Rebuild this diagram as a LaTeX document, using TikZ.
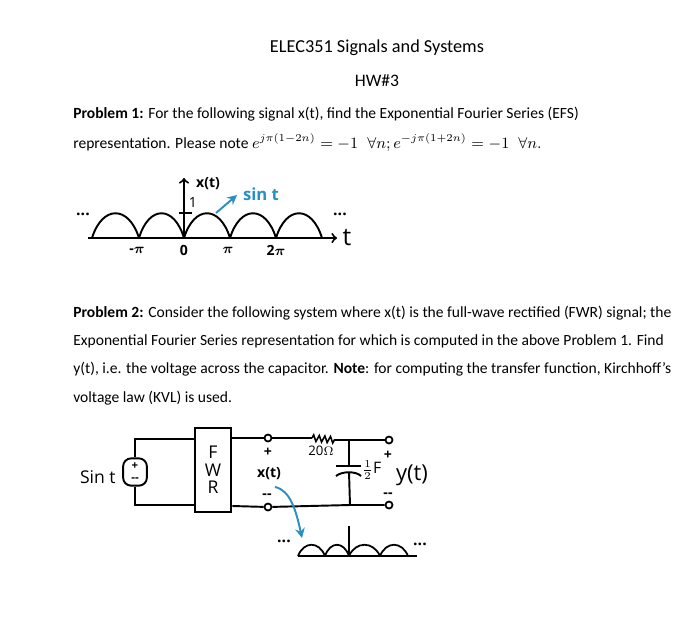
\documentclass[tikz,border=0pt]{standalone}
\usepackage{amsmath,amssymb}
\usepackage{fontspec}
\setmainfont{Carlito}
\newfontfamily\handfont{Open Sans}
\usetikzlibrary{arrows.meta,decorations.pathmorphing}
\definecolor{sketchblue}{HTML}{2A8FC4}
\tikzset{
  txt/.style={anchor=base west, inner sep=0pt, font=\fontsize{8.85}{10}\selectfont},
  head/.style={anchor=base, inner sep=0pt, font=\fontsize{10.4}{12}\selectfont},
  hand/.style={inner sep=0pt, font=\handfont\fontsize{8}{9}\selectfont},
  handb/.style={hand, font=\handfont\bfseries\fontsize{8}{8}\selectfont},
  dotted hand/.style={inner sep=0pt, font=\handfont\bfseries\fontsize{9}{9}\selectfont},
  wire/.style={line width=1.1pt},
  thinwave/.style={line width=1pt},
  terminal/.style={circle, draw, line width=1pt, inner sep=0pt, minimum size=4pt},
  bluearrow/.style={sketchblue, line width=1.1pt, -{Stealth[length=5.5pt,width=5.5pt]}},
}
\begin{document}
\begin{tikzpicture}[x=0.02cm, y=-0.02cm]
  \useasboundingbox (0,0) rectangle (700,620);
  \node[head] (title) at (377,52) {ELEC351 Signals and Systems};
  \node[head, font=\fontsize{10}{12}\selectfont] (hw) at (377,86) {HW\#3};
  \node[txt] (p1a) at (73,118) {\textbf{Problem 1:} For the following signal x(t), find the Exponential Fourier Series (EFS)};
  \node[txt] (p1b) at (73,148) {representation. Please note $e^{j\pi(1-2n)}=-1\;\;\forall n;e^{-j\pi(1+2n)}=-1\;\;\forall n.$};
  \node[txt] (p2a) at (73,317) {\textbf{Problem 2:} Consider the following system where x(t) is the full-wave rectified (FWR) signal; the};
  \node[txt] (p2b) at (73,345) {Exponential Fourier Series representation for which is computed in the above Problem 1. Find};
  \node[txt] (p2c) at (73,373) {y(t), i.e. the voltage across the capacitor. \textbf{Note}: for computing the transfer function, Kirchhoff's};
  \node[txt] (p2d) at (73,402) {voltage law (KVL) is used.};

  % signal sketch
  \coordinate (ax0) at (88,238);
  \coordinate (ax1) at (337,238);
  \coordinate (orig) at (184,238);
  \coordinate (top) at (184,178);
  \draw[wire, ->, >=to] (ax0) -- (ax1);
  \draw[wire, ->, >=to] (orig) -- (top);
  \draw[wire] (179,213) -- (192,213);
  \foreach \a/\b in {92/139, 139/184, 184/230, 230/276, 276/322}
    \draw[wire] (\a,238) .. controls ({\a+0.22*(\b-\a)},205) and ({\b-0.22*(\b-\a)},205) .. (\b,238);
  \node[handb] (xt) at (208,184) {x(t)};
  \node[hand] (one) at (193,202) {1};
  \node[hand, sketchblue, font=\handfont\bfseries\fontsize{9.5}{11}\selectfont] (sint) at (261,194) {sin t};
  \coordinate (sinfoot) at (216,213);
  \coordinate (sinhead) at (237,195);
  \draw[bluearrow] (sinfoot) -- (sinhead);
  \node[hand, font=\handfont\fontsize{14}{14}\selectfont] (tlabel) at (347,238) {t};
  \node[dotted hand] (dotsa) at (83,214) {...};
  \node[dotted hand] (dotsb) at (340,214) {...};
  \node[handb] (mpi) at (137,250) {-$\boldsymbol{\pi}$};
  \node[handb] (zero) at (184,250) {0};
  \node[handb] (pi) at (228,250) {$\boldsymbol{\pi}$};
  \node[handb] (twopi) at (276,250) {2$\boldsymbol{\pi}$};

  % circuit
  \node[draw, wire, rounded corners=4.5pt, minimum width=13.5pt, minimum height=15.5pt, inner sep=0pt, align=center, font=\handfont\bfseries\fontsize{6.5}{6.5}\selectfont] (src) at (135,472) {+\\--};
  \node[hand, anchor=east, font=\handfont\fontsize{10}{12}\selectfont] (sinlabel) at (116,477) {Sin t};
  \node[draw, wire, minimum width=21pt, minimum height=48pt, inner sep=0pt, align=center, font=\handfont\fontsize{10}{10}\selectfont] (fwr) at (213,470) {F\\W\\R};
  \coordinate (fwrin1) at (fwr.west |- 0,439);
  \coordinate (fwrin2) at (fwr.west |- 0,505);
  \coordinate (fwrout1) at (fwr.east |- 0,438);
  \coordinate (fwrout2) at (fwr.east |- 0,506);
  \node[terminal] (a1) at (268,438) {};
  \node[terminal] (a2) at (268,507) {};
  \node[terminal] (b1) at (389,440) {};
  \node[terminal] (b2) at (389,505) {};
  \coordinate (r1) at (312,438);
  \coordinate (r2) at (335,440);
  \coordinate (n1) at (349,440);
  \coordinate (n2) at (350,505);
  \coordinate (c1) at (349,466);
  \coordinate (c2) at (349,472);
  \draw[wire] (src.north) |- (fwrin1);
  \draw[wire] (src.south) |- (fwrin2);
  \draw[wire] (fwrout1) -- (a1);
  \draw[wire] (fwrout2) -- (a2);
  \draw[wire] (a1) -- (r1);
  \draw[line width=0.9pt, decorate, decoration={zigzag, amplitude=1.8pt, segment length=3.2pt}] (r1) -- (r2);
  \draw[wire] (r2) -- (n1) -- (b1);
  \draw[wire] (n1) -- (c1);
  \draw[wire] (c1 -| 336,0) -- (c1 -| 361,0);
  \draw[wire] (336,476) .. controls (342,471) and (356,471) .. (361,476);
  \draw[wire] (c2) -- (n2);
  \draw[wire] (a2) -- (n2) -- (b2);
  \node[handb] (pa) at (268,452) {+};
  \node[handb] (xlabel) at (269,474) {x(t)};
  \node[handb] (ma) at (267,496) {--};
  \node[hand, font=\handfont\fontsize{7.5}{9}\selectfont] (rlabel) at (321,451) {20$\Omega$};
  \node[hand, anchor=west, font=\handfont\fontsize{9}{9}\selectfont] (clabel) at (362,470) {$\frac{1}{2}$F};
  \node[handb] (pb) at (388,455) {+};
  \node[handb] (mb) at (388,495) {--};
  \node[hand, font=\handfont\fontsize{12.5}{14}\selectfont] (ylabel) at (412,475) {y(t)};

  % output sketch
  \coordinate (w0) at (298,556);
  \coordinate (w1) at (417,556);
  \coordinate (wa) at (349,556);
  \coordinate (wb) at (349,526);
  \draw[thinwave] (w0) -- (w1);
  \draw[thinwave] (wa) -- (wb);
  \foreach \a/\b in {298/325, 325/349, 349/380, 380/408}
    \draw[thinwave] (\a,556) .. controls ({\a+0.22*(\b-\a)},541) and ({\b-0.22*(\b-\a)},541) .. (\b,556);
  \node[dotted hand] (dotsc) at (284,541) {...};
  \node[dotted hand] (dotsd) at (420,544) {...};
  \coordinate (bluestart) at (275,487);
  \coordinate (blueend) at (302,538);
  \draw[bluearrow] (bluestart) .. controls (290,490) and (296,510) .. (blueend);
\end{tikzpicture}
\end{document}
